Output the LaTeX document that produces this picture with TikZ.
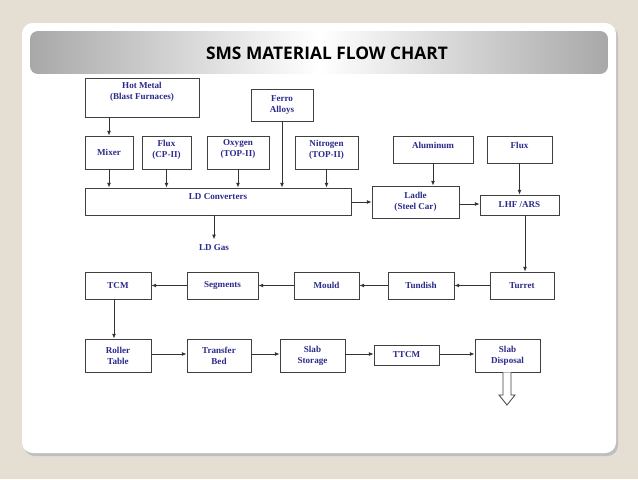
\documentclass[tikz,border=0pt]{standalone}
\usepackage{fontspec}
\setmainfont{Liberation Serif}
\newfontfamily\titlefont{Open Sans}
\usetikzlibrary{arrows.meta}
\definecolor{bgc}{HTML}{E4DED3}
\definecolor{navy}{HTML}{2A2A8A}
\definecolor{barg}{HTML}{A8A8A8}
\tikzset{
 bx/.style 2 args={draw=black!75,line width=0.6pt,minimum width=#1*0.75pt,minimum height=#2*0.75pt,inner sep=0pt,
   font=\fontsize{6.8}{8.2}\selectfont\bfseries,text=navy,align=center},
 lbl/.style={font=\fontsize{6.8}{8.2}\selectfont\bfseries,text=navy,align=center,inner sep=0pt},
 ar/.style={draw=black!80,line width=0.7pt,-{Latex[length=3.5pt,width=3pt]}}
}
\begin{document}
\begin{tikzpicture}[x=0.75pt,y=-0.75pt]
\useasboundingbox (0,0) rectangle (638,479);
\fill[bgc] (0,0) rectangle (638,479);
\fill[black!25,rounded corners=8pt] (24,26) rectangle (618,456);
\fill[white,rounded corners=8pt] (22,23) rectangle (616,453);
\shade[left color=barg,right color=barg,middle color=white,rounded corners=6pt] (30,31) rectangle (608,74);
\fill[white] (30,74) rectangle (608,76);
\node[font=\titlefont\fontsize{13}{15}\selectfont\bfseries] (title) at (327,53) {SMS MATERIAL FLOW CHART};
% row 1
\node[bx={114}{39},label={[lbl,anchor=north,yshift=-3pt]north:Hot Metal\\(Blast Furnaces)}] (hm) at (142,97.5) {};
\node[bx={62}{32}] (fa) at (282,105) {Ferro\\Alloys};
% row 2
\node[bx={48}{33}] (mix) at (109,152.5) {Mixer};
\node[bx={49}{33},label={[lbl,anchor=north,yshift=-3pt]north:Flux\\(CP-II)}] (flux1) at (166.5,152.5) {};
\node[bx={62}{33},label={[lbl,anchor=north,yshift=-3pt]north:Oxygen\\(TOP-II)}] (oxy) at (238,152.5) {};
\node[bx={63}{33},label={[lbl,anchor=north,yshift=-3pt]north:Nitrogen\\(TOP-II)}] (nit) at (326.5,152.5) {};
\node[bx={80}{27},label={[lbl,anchor=north,yshift=-5pt]north:Aluminum}] (alu) at (433,149.5) {};
\node[bx={65}{27},label={[lbl,anchor=north,yshift=-5pt]north:Flux}] (flux2) at (519.5,149.5) {};
% row LD
\node[bx={266}{27},label={[lbl,anchor=north,yshift=-4pt]north:LD Converters}] (ld) at (218,201.5) {};
\node[bx={87}{32}] (ladle) at (415.5,202) {Ladle\\(Steel Car)};
\node[bx={79}{20}] (lhf) at (519.5,205) {LHF /ARS};
\node[lbl] (gas) at (214,248) {LD Gas};
% row 3
\node[bx={66}{27}] (tcm) at (118,285.5) {TCM};
\node[bx={71}{27}] (seg) at (222.5,285.5) {Segments};
\node[bx={65}{27}] (mould) at (326.5,285.5) {Mould};
\node[bx={66}{27}] (tun) at (421,285.5) {Tundish};
\node[bx={64}{27}] (tur) at (522,285.5) {Turret};
% row 4
\node[bx={66}{33}] (roll) at (118,355.5) {Roller\\Table};
\node[bx={64}{33}] (tb) at (219,355.5) {Transfer\\Bed};
\node[bx={65}{33}] (ss) at (312.5,355.5) {Slab\\Storage};
\node[bx={65}{20}] (ttcm) at (406.5,355) {TTCM};
\node[bx={65}{33}] (sd) at (507.5,355.5) {Slab\\Disposal};
% arrows
\draw[ar] (hm.south -| mix) -- (mix.north);
\draw[ar] (mix.south) -- (mix.south |- ld.north);
\draw[ar] (flux1.south) -- (flux1.south |- ld.north);
\draw[ar] (oxy.south) -- (oxy.south |- ld.north);
\draw[ar] (fa.south) -- (fa.south |- ld.north);
\draw[ar] (nit.south) -- (nit.south |- ld.north);
\draw[ar] (ld.east |- 0,202) -- (ladle.west |- 0,202);
\draw[ar] (alu.south) -- (ladle.north -| alu.south);
\draw[ar] (ladle.east |- 0,204) -- (lhf.west |- 0,204);
\draw[ar] (flux2.south) -- (lhf.north -| flux2.south);
\draw[ar] (ld.south -| gas) -- ([yshift=4pt]gas.north);
\draw[ar] (lhf.south -| 525,0) -- (tur.north -| 525,0);
\draw[ar] (tur.west) -- (tun.east);
\draw[ar] (tun.west) -- (mould.east);
\draw[ar] (mould.west) -- (seg.east);
\draw[ar] (seg.west) -- (tcm.east);
\draw[ar] (tcm.south -| 114,0) -- (roll.north -| 114,0);
\draw[ar] (roll.east |- 0,354) -- (tb.west |- 0,354);
\draw[ar] (tb.east |- 0,354) -- (ss.west |- 0,354);
\draw[ar] (ss.east |- 0,354) -- (ttcm.west |- 0,354);
\draw[ar] (ttcm.east |- 0,354) -- (sd.west |- 0,354);
\coordinate (tipd) at (507,405);
\draw[black!75,line width=0.6pt,fill=white] (sd.south -| 503,0) -- (503,395) -- (499,395) -- (tipd) -- (515,395) -- (511,395) -- (sd.south -| 511,0);
\end{tikzpicture}
\end{document}
